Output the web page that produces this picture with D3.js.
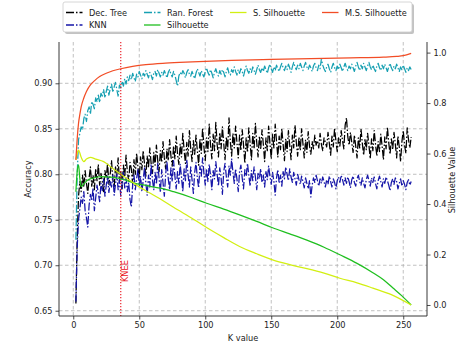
<!DOCTYPE html>
<html><head><meta charset="utf-8">
<script src="https://cdn.jsdelivr.net/npm/d3@7"></script>
<style>body{margin:0;background:#fff}svg{display:block;font-family:"DejaVu Sans",sans-serif}</style>
</head><body><svg id="c" width="474" height="355"></svg>
<script>
const kStart = 2;
const xTicks = [0, 50, 100, 150, 200, 250];
const yLeftTicks = [0.65, 0.70, 0.75, 0.80, 0.85, 0.90];
const yRightTicks = [0.0, 0.2, 0.4, 0.6, 0.8, 1.0];
const kneeK = 36;

const decTree = [
0.658,0.731,0.776,0.792,0.781,0.799,0.786,0.804,0.790,0.779,
0.796,0.808,0.787,0.799,0.783,0.806,0.793,0.811,0.788,0.801,
0.792,0.781,0.804,0.796,0.812,0.789,0.800,0.815,0.794,0.786,
0.808,0.799,0.818,0.791,0.803,0.784,0.810,0.797,0.821,0.802,
0.793,0.813,0.806,0.789,0.816,0.800,0.823,0.808,0.796,0.819,
0.805,0.826,0.811,0.798,0.820,0.807,0.829,0.812,0.801,0.824,
0.810,0.832,0.815,0.803,0.826,0.813,0.836,0.818,0.806,0.828,
0.815,0.838,0.820,0.809,0.831,0.817,0.842,0.822,0.811,0.833,
0.819,0.845,0.826,0.812,0.835,0.820,0.848,0.828,0.814,0.837,
0.822,0.843,0.826,0.810,0.839,0.823,0.851,0.830,0.815,0.840,
0.825,0.855,0.832,0.817,0.844,0.826,0.857,0.833,0.819,0.846,
0.828,0.852,0.834,0.816,0.841,0.827,0.862,0.836,0.820,0.845,
0.829,0.853,0.835,0.818,0.843,0.826,0.849,0.832,0.812,0.840,
0.824,0.851,0.834,0.816,0.845,0.828,0.856,0.835,0.819,0.842,
0.827,0.849,0.833,0.814,0.840,0.826,0.853,0.834,0.817,0.844,
0.829,0.855,0.836,0.819,0.842,0.827,0.850,0.833,0.815,0.839,
0.825,0.848,0.832,0.816,0.843,0.829,0.854,0.835,0.820,0.841,
0.826,0.850,0.834,0.818,0.838,0.824,0.847,0.831,0.822,0.836,
0.828,0.843,0.832,0.837,0.829,0.845,0.833,0.826,0.840,0.835,
0.830,0.846,0.834,0.821,0.842,0.830,0.851,0.836,0.825,0.840,
0.831,0.848,0.837,0.828,0.854,0.862,0.841,0.832,0.846,0.835,
0.824,0.843,0.831,0.818,0.840,0.829,0.850,0.834,0.821,0.838,
0.827,0.845,0.832,0.817,0.839,0.826,0.848,0.833,0.820,0.836,
0.825,0.844,0.831,0.816,0.841,0.828,0.852,0.835,0.822,0.839,
0.827,0.846,0.833,0.818,0.842,0.830,0.814,0.836,0.848,0.832,
0.823,0.851,0.838,0.829,0.841];

const knn = [
0.660,0.720,0.750,0.762,0.775,0.768,0.781,0.760,0.752,0.742,
0.766,0.778,0.771,0.785,0.760,0.774,0.788,0.779,0.770,0.790,
0.782,0.795,0.776,0.788,0.798,0.780,0.792,0.786,0.799,0.777,
0.789,0.800,0.783,0.794,0.776,0.790,0.802,0.785,0.796,0.781,
0.791,0.772,0.764,0.788,0.799,0.783,0.795,0.806,0.787,0.798,
0.781,0.793,0.808,0.790,0.777,0.799,0.786,0.811,0.794,0.783,
0.802,0.789,0.812,0.796,0.780,0.805,0.791,0.776,0.800,0.814,
0.795,0.783,0.807,0.792,0.815,0.798,0.784,0.803,0.790,0.811,
0.797,0.781,0.806,0.793,0.816,0.799,0.786,0.808,0.794,0.779,
0.802,0.813,0.796,0.785,0.809,0.798,0.818,0.801,0.788,0.806,
0.792,0.811,0.799,0.783,0.804,0.795,0.814,0.800,0.787,0.807,
0.796,0.778,0.803,0.812,0.797,0.786,0.809,0.799,0.817,0.802,
0.790,0.806,0.795,0.781,0.803,0.810,0.796,0.784,0.805,0.798,
0.812,0.799,0.787,0.804,0.793,0.808,0.797,0.783,0.801,0.795,
0.806,0.791,0.799,0.786,0.803,0.794,0.809,0.798,0.789,0.802,
0.792,0.777,0.796,0.805,0.790,0.799,0.787,0.803,0.795,0.808,
0.800,0.793,0.806,0.797,0.791,0.802,0.795,0.788,0.800,0.794,
0.789,0.798,0.792,0.785,0.796,0.790,0.784,0.793,0.775,0.788,
0.796,0.791,0.799,0.793,0.787,0.795,0.790,0.797,0.792,0.786,
0.794,0.789,0.798,0.792,0.786,0.795,0.791,0.784,0.793,0.797,
0.791,0.799,0.794,0.788,0.796,0.790,0.797,0.792,0.785,0.794,
0.798,0.791,0.787,0.795,0.799,0.792,0.788,0.796,0.790,0.785,
0.794,0.799,0.793,0.787,0.796,0.791,0.797,0.790,0.784,0.793,
0.798,0.792,0.786,0.795,0.790,0.797,0.793,0.788,0.782,0.791,
0.795,0.789,0.796,0.792,0.784,0.790,0.795,0.787,0.793,0.789,
0.783,0.791,0.794,0.788,0.792];

const ranForest = [
0.728,0.800,0.838,0.845,0.852,0.849,0.861,0.866,0.858,0.870,
0.874,0.866,0.880,0.877,0.872,0.884,0.880,0.887,0.879,0.889,
0.886,0.893,0.884,0.891,0.897,0.887,0.894,0.899,0.890,0.896,
0.901,0.893,0.886,0.898,0.895,0.902,0.897,0.905,0.899,0.907,
0.903,0.909,0.904,0.911,0.906,0.902,0.910,0.907,0.913,0.909,
0.905,0.911,0.908,0.914,0.910,0.906,0.912,0.909,0.904,0.911,
0.913,0.908,0.915,0.911,0.907,0.912,0.909,0.914,0.910,0.906,
0.912,0.915,0.910,0.907,0.913,0.909,0.903,0.897,0.908,0.912,
0.909,0.914,0.911,0.906,0.912,0.915,0.910,0.908,0.913,0.909,
0.905,0.911,0.916,0.912,0.908,0.914,0.910,0.907,0.913,0.917,
0.912,0.909,0.915,0.911,0.906,0.912,0.916,0.911,0.908,0.914,
0.910,0.915,0.912,0.907,0.913,0.917,0.911,0.909,0.915,0.912,
0.918,0.913,0.909,0.915,0.911,0.916,0.913,0.908,0.914,0.919,
0.914,0.911,0.916,0.912,0.918,0.914,0.910,0.915,0.920,0.915,
0.912,0.917,0.913,0.919,0.915,0.911,0.917,0.921,0.916,0.912,
0.918,0.914,0.920,0.916,0.913,0.918,0.922,0.917,0.914,0.919,
0.915,0.921,0.917,0.912,0.918,0.923,0.918,0.915,0.920,0.916,
0.922,0.918,0.914,0.919,0.923,0.918,0.915,0.920,0.917,0.913,
0.919,0.922,0.917,0.914,0.920,0.916,0.927,0.920,0.916,0.913,
0.918,0.921,0.916,0.912,0.918,0.922,0.917,0.914,0.919,0.915,
0.921,0.917,0.913,0.918,0.922,0.917,0.914,0.919,0.916,0.921,
0.917,0.913,0.919,0.923,0.918,0.914,0.920,0.916,0.922,0.918,
0.914,0.919,0.923,0.918,0.915,0.920,0.916,0.913,0.919,0.922,
0.917,0.914,0.920,0.916,0.921,0.917,0.913,0.918,0.922,0.917,
0.914,0.919,0.916,0.921,0.917,0.913,0.918,0.915,0.920,0.916,
0.912,0.917,0.914,0.918,0.915];

const silK = [2,3,4,5,6,8,11,15,21,28,34,40,47,53,59,66,76,90,101,114,126,139,151,164,177,190,202,215,227,235,242,249,256];
const silVals = [0.449,0.530,0.555,0.500,0.469,0.480,0.495,0.503,0.509,0.507,0.503,0.494,0.482,0.476,0.469,0.463,0.449,0.425,0.403,0.380,0.357,0.331,0.306,0.282,0.257,0.229,0.199,0.165,0.128,0.100,0.068,0.036,0.000];

const sSilK = [2,3,4,6,8,10,13,17,23,29,35,43,50,58,66,76,91,101,114,126,139,151,164,177,190,202,215,227,241,256];
const sSilVals = [0.575,0.600,0.614,0.585,0.568,0.578,0.585,0.578,0.568,0.545,0.522,0.493,0.468,0.444,0.420,0.387,0.340,0.307,0.267,0.232,0.203,0.179,0.160,0.144,0.126,0.106,0.088,0.067,0.041,0.000];

const msSilK = [2,3,4,5,6,8,10,13,16,20,25,30,36,45,55,70,90,120,150,180,210,235,245,250,256];
const msSilVals = [0.575,0.660,0.720,0.755,0.785,0.820,0.846,0.872,0.888,0.905,0.918,0.928,0.936,0.945,0.952,0.958,0.963,0.969,0.973,0.976,0.979,0.982,0.985,0.988,0.997];

const W = 474, H = 355;
const L = 59, R = 427, T = 42, B = 316;
const FS = 8.2;
const svg = d3.select("#c");

const x = d3.scaleLinear().domain([-10.8, 268.0]).range([L, R]);
const yL = d3.scaleLinear().domain([0.6442, 0.9454]).range([B, T]);
const yR = d3.scaleLinear().domain([-0.0436, 1.042]).range([B, T]);

// grid
const grid = svg.append("g").attr("stroke", "#b0b0b0").attr("stroke-width", 0.8).attr("stroke-dasharray", "3.5,2.5");
xTicks.forEach(t => grid.append("line").attr("x1", x(t)).attr("x2", x(t)).attr("y1", T).attr("y2", B));
yLeftTicks.forEach(t => grid.append("line").attr("x1", L).attr("x2", R).attr("y1", yL(t)).attr("y2", yL(t)));

svg.append("clipPath").attr("id", "pc").append("rect").attr("x", L).attr("y", T).attr("width", R - L).attr("height", B - T);
const plot = svg.append("g").attr("clip-path", "url(#pc)");

const DASHDOT = "8,2,1.5,2";
const colors = {dt: "#000000", knn: "#1616a8", rf: "#17a0b2", sil: "#1fbf1f", ssil: "#d2ef12", ms: "#f24d26"};

function drawSeries(ks, vals, ys, color, dash, curve) {
  const data = vals.map((v, i) => [ks ? ks[i] : kStart + i, v]);
  plot.append("path").datum(data)
    .attr("fill", "none").attr("stroke", color).attr("stroke-width", 1.25)
    .attr("stroke-linejoin", "round")
    .attr("stroke-dasharray", dash || null)
    .attr("d", d3.line().curve(curve || d3.curveLinear).x(d => x(d[0])).y(d => ys(d[1])));
}
drawSeries(null, decTree, yL, colors.dt, DASHDOT);
drawSeries(null, knn, yL, colors.knn, DASHDOT);
drawSeries(null, ranForest, yL, colors.rf, DASHDOT);
drawSeries(silK, silVals, yR, colors.sil, null, d3.curveMonotoneX);
drawSeries(sSilK, sSilVals, yR, colors.ssil, null, d3.curveMonotoneX);
drawSeries(msSilK, msSilVals, yR, colors.ms, null, d3.curveMonotoneX);

// knee
plot.append("line").attr("x1", x(kneeK)).attr("x2", x(kneeK)).attr("y1", T).attr("y2", B)
  .attr("stroke", "#e8101a").attr("stroke-width", 1.1).attr("stroke-dasharray", "1.2,1.8");
svg.append("text").attr("transform", `translate(${x(kneeK) + 7.2},282) rotate(-90)`)
  .attr("fill", "#e8101a").attr("font-size", FS).text("KNEE");

// axes
const axB = svg.append("g").attr("transform", `translate(0,${B})`)
  .call(d3.axisBottom(x).tickValues(xTicks).tickSize(3.5).tickPadding(3).tickFormat(d3.format("d")));
const axL = svg.append("g").attr("transform", `translate(${L},0)`)
  .call(d3.axisLeft(yL).tickValues(yLeftTicks).tickSize(3.5).tickPadding(3).tickFormat(d3.format(".2f")));
const axR = svg.append("g").attr("transform", `translate(${R},0)`)
  .call(d3.axisRight(yR).tickValues(yRightTicks).tickSize(3.5).tickPadding(3).tickFormat(d3.format(".1f")));
[axB, axL, axR].forEach(a => {
  a.selectAll("text").attr("font-size", FS).attr("font-family", "DejaVu Sans").attr("fill", "#222");
  a.selectAll("line").attr("stroke", "#222").attr("stroke-width", 0.8);
  a.select(".domain").remove();
});
// spines
const sp = svg.append("g").attr("stroke", "#222").attr("stroke-width", 0.9).attr("fill", "none");
sp.append("line").attr("x1", L).attr("x2", L).attr("y1", T).attr("y2", B);
sp.append("line").attr("x1", R).attr("x2", R).attr("y1", T).attr("y2", B);
sp.append("line").attr("x1", L).attr("x2", R).attr("y1", B).attr("y2", B);

// axis labels
svg.append("text").attr("x", (L + R) / 2).attr("y", 341).attr("text-anchor", "middle").attr("font-size", FS).attr("fill", "#222").text("K value");
svg.append("text").attr("transform", `translate(31,179) rotate(-90)`).attr("text-anchor", "middle").attr("font-size", FS).attr("fill", "#222").text("Accuracy");
svg.append("text").attr("transform", `translate(455,180) rotate(-90)`).attr("text-anchor", "middle").attr("font-size", FS).attr("fill", "#222").text("Silhouette Value");

// legend
const lg = svg.append("g");
lg.append("rect").attr("x", 65).attr("y", 4).attr("width", 349).attr("height", 30).attr("rx", 2).attr("fill", "#888").attr("opacity", 0.5);
lg.append("rect").attr("x", 63).attr("y", 2).attr("width", 349).attr("height", 30).attr("rx", 2).attr("fill", "#fff").attr("stroke", "#cccccc").attr("stroke-width", 0.8);
const legendItems = [
  {label: "Dec. Tree", c: colors.dt, dash: DASHDOT, tx: 89, row: 0},
  {label: "KNN", c: colors.knn, dash: DASHDOT, tx: 89, row: 1},
  {label: "Ran. Forest", c: colors.rf, dash: DASHDOT, tx: 167, row: 0},
  {label: "Silhouette", c: colors.sil, dash: null, tx: 167, row: 1},
  {label: "S. Silhouette", c: colors.ssil, dash: null, tx: 253, row: 0},
  {label: "M.S. Silhouette", c: colors.ms, dash: null, tx: 345, row: 0}
];
legendItems.forEach(it => {
  const cy = it.row === 0 ? 12.5 : 25;
  lg.append("line").attr("x1", it.tx - 23).attr("x2", it.tx - 6.5).attr("y1", cy).attr("y2", cy)
    .attr("stroke", it.c).attr("stroke-width", 1.3).attr("stroke-dasharray", it.dash);
  lg.append("text").attr("x", it.tx).attr("y", cy + 3).attr("font-size", FS).attr("fill", "#222").text(it.label);
});
</script></body></html>
